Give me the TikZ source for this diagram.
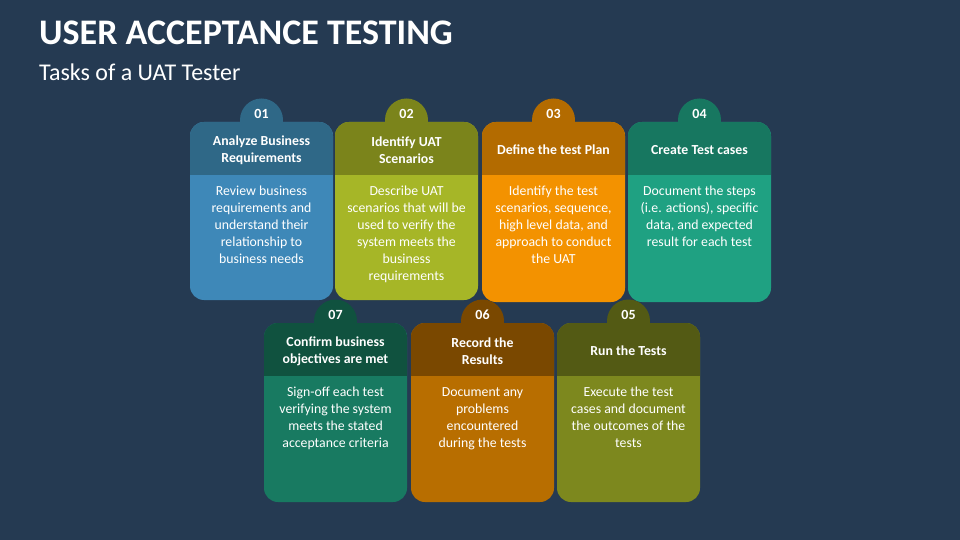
\documentclass[tikz,border=0pt]{standalone}
\usepackage{fontspec}
\setmainfont{Carlito}
\usepackage{xcolor}
\usepackage{tikz}
\definecolor{navy}{HTML}{253A52}
\definecolor{bluehd}{HTML}{2F6887}
\definecolor{bluebd}{HTML}{3E88B8}
\definecolor{limehd}{HTML}{7B841B}
\definecolor{limebd}{HTML}{A6B627}
\definecolor{orghd}{HTML}{B36B00}
\definecolor{orgbd}{HTML}{F39200}
\definecolor{teahd}{HTML}{177760}
\definecolor{teabd}{HTML}{1FA182}
\definecolor{olvhd}{HTML}{535A14}
\definecolor{olvbd}{HTML}{7D881E}
\definecolor{brnhd}{HTML}{7A4800}
\definecolor{brnbd}{HTML}{B86E00}
\definecolor{grnhd}{HTML}{10523F}
\definecolor{grnbd}{HTML}{187A61}
\tikzset{
  cardnum/.style={font=\fontsize{14}{16}\selectfont\bfseries, text=white, inner sep=0pt},
  cardhead/.style={font=\fontsize{13.8}{17}\selectfont\bfseries, text=white, align=center, inner sep=0pt},
  cardtext/.style={font=\fontsize{13.8}{17}\selectfont, text=white, align=center, inner sep=0pt, anchor=north},
}
% name, left x, top y, bottom y, head colour, body colour, number, title, text
\newcommand{\uatcard}[9]{%
  \fill[#6, rounded corners=14pt] (#2,#3) rectangle ({#2+143},#4);
  \begin{scope}
    \clip[rounded corners=14pt] (#2,#3) rectangle ({#2+143},#4);
    \fill[#5] (#2,#3) rectangle ({#2+143},{#3+53});
  \end{scope}
  \fill[#5] ({#2+71.5},{#3-2}) circle[radius=21.5];
  \fill[#5] ({#2+50},{#3-2}) rectangle ({#2+93},{#3+6});
  \node[cardnum] (#1-num) at ({#2+71.5},{#3-8.5}) {#7};
  \node[cardhead] (#1-head) at ({#2+71.5},{#3+28}) {#8};
  \node[cardtext] (#1-body) at ({#2+71.5},{#3+64}) {#9};
}

\begin{document}
\begin{tikzpicture}[x=1pt, y=-1pt]
\fill[navy] (0,0) rectangle (960,540);
\useasboundingbox (0,0) rectangle (960,540);
\node[anchor=base west, inner sep=0pt, text=white, font=\fontsize{36}{42}\selectfont\bfseries] (title) at (39,45) {USER ACCEPTANCE TESTING};
\node[anchor=base west, inner sep=0pt, text=white, font=\fontsize{24}{28}\selectfont] (sub) at (39,81) {Tasks of a UAT Tester};
% top row
\uatcard{c1}{190}{122}{300}{bluehd}{bluebd}{01}{Analyze Business\\Requirements}{Review business\\requirements and\\understand their\\relationship to\\business needs}
\uatcard{c2}{335}{122}{300}{limehd}{limebd}{02}{Identify UAT\\Scenarios}{Describe UAT\\scenarios that will be\\used to verify the\\system meets the\\business\\requirements}
\uatcard{c3}{482}{122}{302}{orghd}{orgbd}{03}{Define the test Plan}{Identify the test\\scenarios, sequence,\\high level data, and\\approach to conduct\\the UAT}
\uatcard{c4}{628}{122}{302}{teahd}{teabd}{04}{Create Test cases}{Document the steps\\(i.e. actions), specific\\data, and expected\\result for each test}
% bottom row
\uatcard{c7}{264}{323}{502}{grnhd}{grnbd}{07}{Confirm business\\objectives are met}{Sign-off each test\\verifying the system\\meets the stated\\acceptance criteria}
\uatcard{c6}{411}{323}{502}{brnhd}{brnbd}{06}{Record the\\Results}{Document any\\problems\\encountered\\during the tests}
\uatcard{c5}{557}{323}{502}{olvhd}{olvbd}{05}{Run the Tests}{Execute the test\\cases and document\\the outcomes of the\\tests}
\end{tikzpicture}
\end{document}
